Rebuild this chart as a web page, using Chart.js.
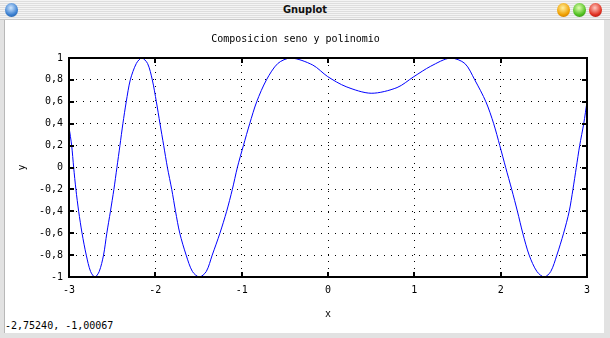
<!DOCTYPE html>
<html>
<head>
<meta charset="utf-8">
<script src="https://cdn.jsdelivr.net/npm/chart.js@4.4.1/dist/chart.umd.min.js"></script>
<style>
  body { margin: 0; width: 610px; height: 338px; overflow: hidden; background: #e2e2e2; position: relative; }
  #bar { position: absolute; left: 0; top: 0; width: 610px; height: 20px;
         background: repeating-linear-gradient(#f4f4f4 0 1px, #dedede 1px 2px);
         border-bottom: 1px solid #c8c8c8; box-sizing: border-box; }
  #bar .name { position: absolute; left: 0; width: 610px; top: 3px; text-align: center;
               font: bold 11px "DejaVu Sans Condensed", "DejaVu Sans", sans-serif; color: #111; }
  .btn { position: absolute; top: 3px; width: 13px; height: 14px; border-radius: 50%; }
  #content { position: absolute; left: 4px; top: 20px; width: 600px; height: 313px; background: #fff;
             border-left: 1px solid #b8b8b8; box-sizing: border-box; }
  #wrap { position: absolute; left: 4px; top: 20px; width: 600px; height: 300px; }
  #status { position: absolute; left: 5px; top: 320px; font: 10px "DejaVu Sans Mono", monospace; color: #000; }
</style>
</head>
<body>
<div id="bar">
  <div class="btn" style="left:5px;background:radial-gradient(circle at 45% 35%, #cfe6ff, #3a7fd0 60%, #1b4f90);"></div>
  <div class="name">Gnuplot</div>
  <div class="btn" style="left:557px;background:radial-gradient(circle at 45% 35%, #fff0a0, #f0a000 60%, #b06000);"></div>
  <div class="btn" style="left:573px;background:radial-gradient(circle at 45% 35%, #e0ffb0, #50c020 60%, #2a7a10);"></div>
  <div class="btn" style="left:589px;background:radial-gradient(circle at 45% 35%, #ffc8c0, #e03020 60%, #901010);"></div>
</div>
<div id="content"></div>
<div id="wrap"><canvas id="plot" width="600" height="300"></canvas></div>
<div id="status">-2,75240, -1,00067</div>

<script>
// curve, x then y
const xValues = [
  -3.00, -2.969, -2.946, -2.92, -2.888, -2.849, -2.80, -2.75, -2.70, -2.65,
  -2.60, -2.562, -2.52, -2.48, -2.445, -2.41, -2.376, -2.337, -2.29, -2.22,
  -2.157, -2.09, -2.035, -1.988, -1.946, -1.903, -1.86, -1.81, -1.766, -1.717,
  -1.643, -1.57, -1.49, -1.41, -1.341, -1.252, -1.174, -1.108, -1.05, -0.98,
  -0.907, -0.826, -0.713, -0.581, -0.43, -0.177, -0.003, 0.21, 0.50, 0.80,
  0.995, 1.19, 1.42, 1.585, 1.70, 1.829, 1.919, 1.99, 2.058, 2.128,
  2.194, 2.256, 2.33, 2.42, 2.506, 2.58, 2.651, 2.729, 2.794, 2.837,
  2.876, 2.915, 2.962, 3.00
];
const yValues = [
  0.37, 0.2, 0.0, -0.2, -0.4, -0.6, -0.8, -0.95, -1.0, -0.95,
  -0.8, -0.6, -0.4, -0.2, 0.0, 0.2, 0.4, 0.6, 0.8, 0.95,
  1.0, 0.95, 0.8, 0.6, 0.4, 0.2, 0.0, -0.2, -0.4, -0.6,
  -0.8, -0.95, -1.0, -0.95, -0.8, -0.6, -0.4, -0.2, 0.0, 0.2,
  0.4, 0.6, 0.8, 0.95, 1.0, 0.936, 0.83, 0.738, 0.678, 0.73,
  0.83, 0.925, 1.0, 0.95, 0.8, 0.6, 0.4, 0.2, 0.0, -0.2,
  -0.4, -0.6, -0.8, -0.95, -1.0, -0.95, -0.8, -0.6, -0.4, -0.2,
  0.0, 0.2, 0.4, 0.6
];
const xTickValues = [-3, -2, -1, 0, 1, 2, 3];
const yTickValues = [-1, -0.8, -0.6, -0.4, -0.2, 0, 0.2, 0.4, 0.6, 0.8, 1];

const monoFont = { family: 'DejaVu Sans Mono', size: 10, weight: 'normal' };

// number with decimal comma, like the original
function fmt(v) {
  return String(Math.round(v * 10) / 10).replace('.', ',');
}

// box round the plot plus the small inner tick marks on all four sides
const frame = {
  id: 'frame',
  afterDatasetsDraw(chart) {
    const { ctx, chartArea: a, scales: { x, y } } = chart;
    ctx.save();
    ctx.strokeStyle = '#000';
    ctx.lineWidth = 2;
    ctx.beginPath();
    xTickValues.forEach(v => {
      const px = Math.round(x.getPixelForValue(v));
      ctx.moveTo(px, a.top); ctx.lineTo(px, a.top + 5);
      ctx.moveTo(px, a.bottom); ctx.lineTo(px, a.bottom - 5);
    });
    yTickValues.forEach(v => {
      const py = Math.round(y.getPixelForValue(v));
      ctx.moveTo(a.left, py); ctx.lineTo(a.left + 5, py);
      ctx.moveTo(a.right, py); ctx.lineTo(a.right - 5, py);
    });
    ctx.stroke();
    ctx.strokeRect(a.left, a.top, a.right - a.left, a.bottom - a.top);
    ctx.restore();
  }
};

new Chart(document.getElementById('plot'), {
  type: 'line',
  data: {
    datasets: [{
      data: xValues.map((x, i) => ({ x: x, y: yValues[i] })),
      borderColor: '#0000ff',
      borderWidth: 1,
      pointRadius: 0,
      fill: false,
      tension: 0.3
    }]
  },
  options: {
    responsive: false,
    animation: false,
    devicePixelRatio: 1,
    layout: { padding: { left: 0, right: 17, top: 0, bottom: 0 } },
    plugins: {
      legend: { display: false },
      tooltip: { enabled: false },
      title: {
        display: true,
        text: 'Composicion seno y polinomio',
        color: '#000',
        font: monoFont,
        padding: { top: 13, bottom: 13 }
      }
    },
    scales: {
      x: {
        type: 'linear',
        min: -3,
        max: 3,
        afterBuildTicks: s => { s.ticks = xTickValues.map(v => ({ value: v })); },
        afterFit: s => { s.height = 43; },
        ticks: { color: '#000', font: monoFont, padding: 7, maxRotation: 0, callback: fmt },
        grid: { color: '#000', lineWidth: 1, drawTicks: false },
        border: { display: false, dash: [1, 6] },
        title: { display: true, text: 'x', color: '#000', font: monoFont, padding: { top: 4, bottom: 0 } }
      },
      y: {
        type: 'linear',
        min: -1,
        max: 1,
        afterBuildTicks: s => { s.ticks = yTickValues.map(v => ({ value: v })); },
        afterFit: s => { s.width = 65; },
        ticks: { color: '#000', font: monoFont, padding: 6, callback: fmt },
        grid: { color: '#000', lineWidth: 1, drawTicks: false },
        border: { display: false, dash: [1, 6] },
        title: { display: true, text: 'y', color: '#000', font: monoFont, padding: { top: 12, bottom: 0 } }
      }
    }
  },
  plugins: [frame]
});
</script>
</body>
</html>
